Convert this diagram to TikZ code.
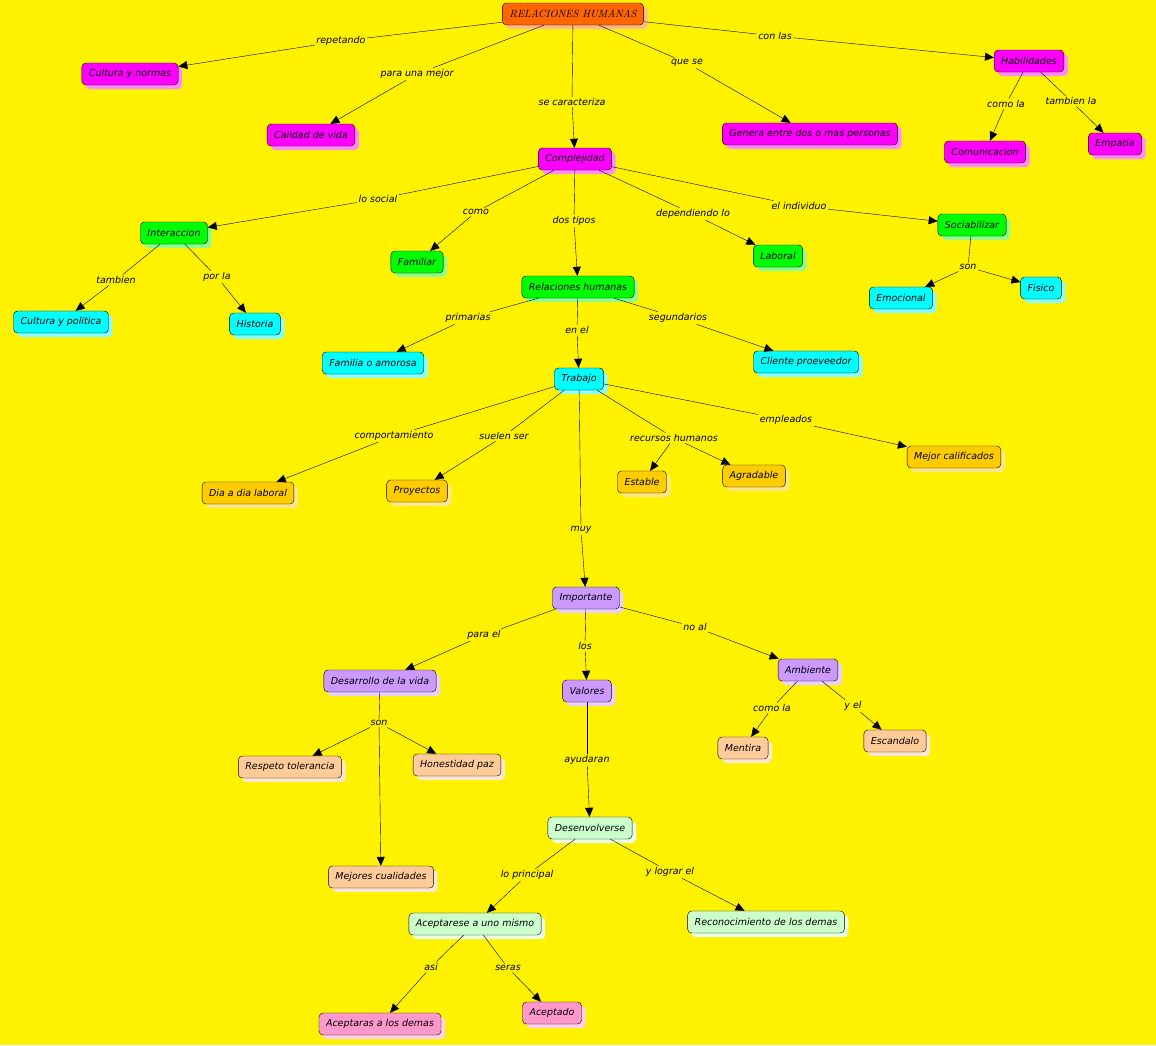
\documentclass[tikz,border=0pt]{standalone}
\usepackage{fontspec}
\setsansfont{DejaVu Sans}
\usetikzlibrary{shadows,arrows.meta}
\definecolor{cmOrange}{HTML}{FF6600}
\definecolor{cmMag}{HTML}{FF00FF}
\definecolor{cmGreen}{HTML}{00FF00}
\definecolor{cmCyan}{HTML}{00FFFF}
\definecolor{cmGold}{HTML}{FFCC00}
\definecolor{cmLila}{HTML}{CC99FF}
\definecolor{cmPeach}{HTML}{FFCC99}
\definecolor{cmMint}{HTML}{CCFFCC}
\definecolor{cmPink}{HTML}{FF99CC}
\tikzset{
  concept/.style={draw,rounded corners=4pt,minimum height=22pt,inner xsep=7pt,
    font=\sffamily\itshape\fontsize{9.5}{11}\selectfont,
    drop shadow={shadow xshift=4pt,shadow yshift=-4pt,fill=#1!45,opacity=1},fill=#1},
  lnk/.style={fill=yellow,inner sep=1.5pt,font=\sffamily\itshape\fontsize{9.5}{11}\selectfont},
  arr/.style={-{Triangle[length=9pt,width=8pt]}}
}
\begin{document}
\begin{tikzpicture}[x=1pt,y=-1pt,thin]
\useasboundingbox[fill=yellow] (0,0) rectangle (1156,1045);

% Concepts
\node[concept=cmOrange,font=\rmfamily\itshape\fontsize{10.5}{12}\selectfont] (root) at (573,14) {RELACIONES HUMANAS};
\node[concept=cmMag] (cultN) at (130,74) {Cultura y normas};
\node[concept=cmMag] (calid) at (311,135) {Calidad de vida};
\node[concept=cmMag] (compl) at (575,159) {Complejidad};
\node[concept=cmMag] (gener) at (810,134) {Genera entre dos o mas personas};
\node[concept=cmMag] (habil) at (1029,61) {Habilidades};
\node[concept=cmMag] (comun) at (985,152) {Comunicacion};
\node[concept=cmMag] (empat) at (1115,144) {Empatia};
\node[concept=cmGreen] (inter) at (174,233) {Interaccion};
\node[concept=cmGreen] (famil) at (417,262) {Familiar};
\node[concept=cmGreen] (relh) at (578,287) {Relaciones humanas};
\node[concept=cmGreen] (labor) at (778,256) {Laboral};
\node[concept=cmGreen] (socia) at (972,225) {Sociabilizar};
\node[concept=cmCyan] (cultP) at (61,322) {Cultura y politica};
\node[concept=cmCyan] (histo) at (255,324) {Historia};
\node[concept=cmCyan] (emoci) at (901,298) {Emocional};
\node[concept=cmCyan] (fisic) at (1041,288) {Fisico};
\node[concept=cmCyan] (famam) at (373,363) {Familia o amorosa};
\node[concept=cmCyan] (traba) at (579,379) {Trabajo};
\node[concept=cmCyan] (clien) at (806,362) {Cliente proeveedor};
\node[concept=cmGold] (diadi) at (248,493) {Dia a dia laboral};
\node[concept=cmGold] (proye) at (417,491) {Proyectos};
\node[concept=cmGold] (estab) at (642,482) {Estable};
\node[concept=cmGold] (agrad) at (754,476) {Agradable};
\node[concept=cmGold] (mejca) at (954,457) {Mejor calificados};
\node[concept=cmLila] (impor) at (586,598) {Importante};
\node[concept=cmLila] (desar) at (380,681) {Desarrollo de la vida};
\node[concept=cmLila] (valor) at (587,691) {Valores};
\node[concept=cmLila] (ambie) at (808,670) {Ambiente};
\node[concept=cmPeach] (respe) at (290,767) {Respeto tolerancia};
\node[concept=cmPeach] (hones) at (457,765) {Honestidad paz};
\node[concept=cmPeach] (menti) at (743,748) {Mentira};
\node[concept=cmPeach] (escan) at (895,741) {Escandalo};
\node[concept=cmPeach] (mejcu) at (381,877) {Mejores cualidades};
\node[concept=cmMint] (desen) at (590,828) {Desenvolverse};
\node[concept=cmMint] (acmis) at (475,924) {Aceptarese a uno mismo};
\node[concept=cmMint] (recon) at (766,922) {Reconocimiento de los demas};
\node[concept=cmPink] (acdem) at (380,1024) {Aceptaras a los demas};
\node[concept=cmPink] (acept) at (552,1013) {Aceptado};

% Linking phrases
\node[lnk] (l1) at (341,41) {repetando};
\node[lnk] (l2) at (417,74) {para una mejor};
\node[lnk] (l3) at (572,102) {se caracteriza};
\node[lnk] (l4) at (687,63) {que se};
\node[lnk] (l5) at (775,36) {con las};
\node[lnk] (l6) at (1006,104) {como la};
\node[lnk] (l7) at (1071,101) {tambien la};
\node[lnk] (l8) at (378,199) {lo social};
\node[lnk] (l9) at (476,212) {como};
\node[lnk] (l10) at (574,221) {dos tipos};
\node[lnk] (l11) at (693,214) {dependiendo lo};
\node[lnk] (l12) at (799,206) {el individuo};
\node[lnk] (l13) at (116,280) {tambien};
\node[lnk] (l14) at (217,277) {por la};
\node[lnk] (l15) at (968,267) {son};
\node[lnk] (l16) at (468,318) {primarias};
\node[lnk] (l17) at (577,330) {en el};
\node[lnk] (l18) at (678,318) {segundarios};
\node[lnk] (l19) at (394,436) {comportamiento};
\node[lnk] (l20) at (504,436) {suelen ser};
\node[lnk] (l21) at (674,438) {recursos humanos};
\node[lnk] (l22) at (786,420) {empleados};
\node[lnk] (l23) at (581,530) {muy};
\node[lnk] (l24) at (484,635) {para el};
\node[lnk] (l25) at (585,646) {los};
\node[lnk] (l26) at (695,627) {no al};
\node[lnk] (l27) at (379,723) {son};
\node[lnk] (l28) at (772,708) {como la};
\node[lnk] (l29) at (853,706) {y el};
\node[lnk] (l30) at (587,760) {ayudaran};
\node[lnk] (l31) at (527,875) {lo principal};
\node[lnk] (l32) at (670,872) {y lograr el};
\node[lnk] (l33) at (431,967) {asi};
\node[lnk] (l34) at (508,968) {seras};

% Connectors
\foreach \a/\l in {root/l1,root/l2,root/l3,root/l4,root/l5,habil/l6,habil/l7,
  compl/l8,compl/l9,compl/l10,compl/l11,compl/l12,inter/l13,inter/l14,socia/l15,
  relh/l16,relh/l17,relh/l18,traba/l19,traba/l20,traba/l21,traba/l22,traba/l23,
  impor/l24,impor/l25,impor/l26,desar/l27,ambie/l28,ambie/l29,valor/l30,
  desen/l31,desen/l32,acmis/l33,acmis/l34}
  \draw (\a) -- (\l);
\foreach \l/\b in {l1/cultN,l2/calid,l3/compl,l4/gener,l5/habil,l6/comun,l7/empat,
  l8/inter,l9/famil,l10/relh,l11/labor,l12/socia,l13/cultP,l14/histo,l15/emoci,l15/fisic,
  l16/famam,l17/traba,l18/clien,l19/diadi,l20/proye,l21/estab,l21/agrad,l22/mejca,
  l23/impor,l24/desar,l25/valor,l26/ambie,l27/respe,l27/hones,l27/mejcu,l28/menti,
  l29/escan,l30/desen,l31/acmis,l32/recon,l33/acdem,l34/acept}
  \draw[arr] (\l) -- (\b);
\end{tikzpicture}
\end{document}
